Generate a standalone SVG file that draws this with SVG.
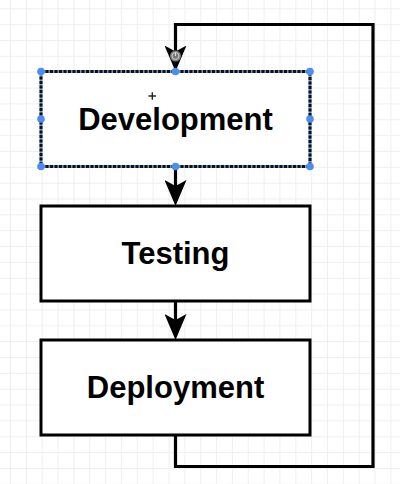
<svg xmlns="http://www.w3.org/2000/svg" width="400" height="484" viewBox="0 0 400 484">
  <style>
    .box { fill: #ffffff; stroke: #000000; stroke-width: 3; }
    .label { font-family: "Liberation Sans", Arial, Helvetica, sans-serif; font-size: 31px; font-weight: bold; fill: #000000; text-anchor: middle; }
    .edge { fill: none; stroke: #000000; stroke-width: 3.2; stroke-linejoin: miter; }
    .handle { fill: #4a8ef0; }
    .grid { stroke: #efefef; stroke-width: 1; fill: none; }
  </style>
  <defs>
    <pattern id="gridpat" x="10" y="8.3" width="15.85" height="15.85" patternUnits="userSpaceOnUse">
      <path class="grid" d="M0.5,0 V15.85 M0,0.5 H15.85"/>
    </pattern>
    <marker id="arrow" viewBox="0 0 26 22" refX="6" refY="11" markerWidth="26" markerHeight="22" markerUnits="userSpaceOnUse" orient="auto">
      <path d="M0,0 L26,11 L0,22 L6,11 Z" fill="#000000"/>
    </marker>
  </defs>
  <rect x="0" y="0" width="400" height="484" fill="#ffffff"/>
  <rect x="0" y="0" width="400" height="484" fill="url(#gridpat)"/>

  <g id="connectors">
    <path class="edge" d="M175.5,166.5 V186" marker-end="url(#arrow)"/>
    <path class="edge" d="M175.5,300.5 V320" marker-end="url(#arrow)"/>
    <path class="edge" d="M175.5,435.5 V466.5 H373 V24.5 H175.5 V51.5" marker-end="url(#arrow)"/>
  </g>

  <g id="node-development">
    <rect x="41" y="71.5" width="269" height="95" fill="#ffffff" stroke="#6b95d8" stroke-width="3"/>
    <rect x="41" y="71.5" width="269" height="95" fill="none" stroke="#111111" stroke-width="3" stroke-dasharray="3 1.5"/>
    <text class="label" x="175.5" y="129.5">Development</text>
  </g>

  <g id="node-testing">
    <rect class="box" x="41" y="206" width="269" height="95"/>
    <text class="label" x="175.5" y="263.5">Testing</text>
  </g>

  <g id="node-deployment">
    <rect class="box" x="41" y="340" width="269" height="95"/>
    <text class="label" x="175.5" y="398">Deployment</text>
  </g>

  <g id="selection-handles">
    <circle class="handle" cx="41" cy="71.5" r="3.8"/>
    <circle class="handle" cx="175.5" cy="71.5" r="3.8"/>
    <circle class="handle" cx="310" cy="71.5" r="3.8"/>
    <circle class="handle" cx="41" cy="119" r="3.8"/>
    <circle class="handle" cx="310" cy="119" r="3.8"/>
    <circle class="handle" cx="41" cy="166.5" r="3.8"/>
    <circle class="handle" cx="175.5" cy="166.5" r="3.8"/>
    <circle class="handle" cx="310" cy="166.5" r="3.8"/>
  </g>

  <g id="ui-overlay">
    <circle cx="175.5" cy="56" r="5.5" fill="#7a7a7a"/>
    <circle cx="175.5" cy="56" r="3.5" fill="none" stroke="#cfcfcf" stroke-width="1"/>
    <path d="M175.5,52.5 V56" stroke="#e0e0e0" stroke-width="1"/>
    <path d="M148.5,96 H156 M152.3,92.3 V99.7" stroke="#222222" stroke-width="1.4"/>
  </g>
</svg>
